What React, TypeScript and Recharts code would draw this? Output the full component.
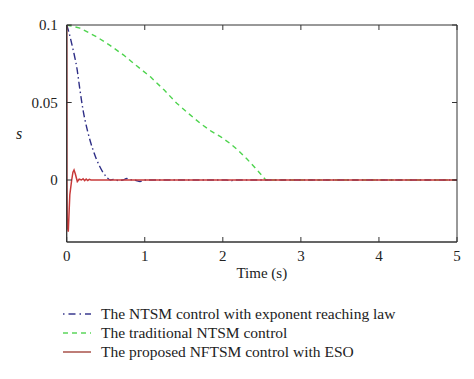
import React from "react";
import { LineChart, Line, XAxis, YAxis, Legend } from "recharts";

// NTSM control with exponent reaching law
const expT = [0, 0.03, 0.064, 0.1, 0.128, 0.17, 0.21, 0.27, 0.34, 0.42, 0.51, 0.56, 0.6, 0.66, 0.72, 0.77, 0.82, 0.88, 0.94, 1.0, 1.1, 2.05, 2.1, 2.15, 3.0, 5.0];
const expS = [0.1, 0.095, 0.088, 0.08, 0.073, 0.058, 0.045, 0.031, 0.019, 0.009, 0.002, 0.0, 0.0004, -0.0003, 0.0, 0.001, 0.0002, -0.0002, -0.001, 0.0, 0.0, 0.0, -0.0006, 0.0, 0.0, 0.0];

// Traditional NTSM control
const tradT = [0, 0.17, 0.38, 0.55, 0.73, 0.9, 1.07, 1.25, 1.41, 1.57, 1.71, 1.85, 1.97, 2.09, 2.2, 2.31, 2.42, 2.5, 2.55, 5.0];
const tradS = [0.1, 0.098, 0.0925, 0.087, 0.0806, 0.0735, 0.0667, 0.058, 0.0495, 0.0425, 0.0366, 0.0315, 0.028, 0.0237, 0.019, 0.0135, 0.0075, 0.003, 0.0, 0.0];

// Proposed NFTSM control with ESO
const propT = [0, 0.002, 0.008, 0.02, 0.04, 0.064, 0.08, 0.094, 0.11, 0.136, 0.16, 0.19, 0.21, 0.23, 0.25, 0.27, 0.29, 0.31, 5.0];
const propS = [0.1, 0.0, -0.03, -0.0333, -0.0095, 0.0, 0.005, 0.0065, 0.004, -0.001, 0.0005, 0.0, 0.0008, -0.0004, 0.0006, -0.0003, 0.0004, 0.0, 0.0];

const xTicks = [0, 1, 2, 3, 4, 5];
const yTicks = [0, 0.05, 0.1];
const yTickLabels = ["0", "0.05", "0.1"];

const legendNames = [
  "The NTSM control with exponent reaching law",
  "The traditional NTSM control",
  "The proposed NFTSM control with ESO",
];

const COLORS = { exp: "#2e2e86", trad: "#4fd44f", prop: "#c83a3a" };
const LEGEND_COLORS = { exp: "#3a3a8e", trad: "#5cd65c", prop: "#a8524a" };
const DASH = { exp: "7 3 1.5 3", trad: "5 4", prop: undefined as string | undefined };

const toData = (t: number[], s: number[]) => t.map((tv, i) => ({ t: tv, s: s[i] }));
const expData = toData(expT, expS);
const tradData = toData(tradT, tradS);
const propData = toData(propT, propS);

const FONT = "'Liberation Serif', 'DejaVu Serif', serif";
const AX = "#333";

const LegendContent = () => {
  const items = [
    { name: legendNames[0], color: LEGEND_COLORS.exp, dash: "1.5 4 7 4" },
    { name: legendNames[1], color: LEGEND_COLORS.trad, dash: DASH.trad },
    { name: legendNames[2], color: LEGEND_COLORS.prop, dash: DASH.prop },
  ];
  return (
    <svg width={380} height={60} style={{ display: "block" }}>
      {items.map((it, i) => (
        <g key={i}>
          <line x1={0} x2={28} y1={9 + i * 19} y2={9 + i * 19} stroke={it.color} strokeWidth={1.5} strokeDasharray={it.dash} />
          <text x={38} y={9 + i * 19} dy="0.35em" fontFamily={FONT} fontSize={15.5} fill="#222">
            {it.name}
          </text>
        </g>
      ))}
    </svg>
  );
};

const fmtY = (v: number) => {
  const idx = yTicks.indexOf(v);
  return idx >= 0 ? yTickLabels[idx] : String(v);
};

const NoTick = () => <g />;

export default function App() {
  return (
    <div style={{ position: "absolute", left: 0, top: 0, background: "#fff" }}>
      <LineChart width={474} height={379} margin={{ top: 25, right: 17, left: 0, bottom: 97 }}>
        <XAxis
          xAxisId="main"
          dataKey="t"
          type="number"
          domain={[0, 5]}
          ticks={xTicks}
          allowDataOverflow
          height={40}
          tickLine={false}
          tickSize={0}
          tickMargin={8}
          stroke={AX}
          tick={{ fill: "#222", fontSize: 15, fontFamily: FONT }}
          label={{ value: "Time (s)", position: "insideBottom", offset: 4, fill: "#222", fontSize: 15, fontFamily: FONT }}
        />
        <XAxis xAxisId="bt" dataKey="t" orientation="bottom" mirror type="number" domain={[0, 5]} ticks={xTicks} allowDataOverflow height={1} tickSize={5} stroke={AX} tick={NoTick} />
        <XAxis xAxisId="top" dataKey="t" orientation="top" mirror type="number" domain={[0, 5]} ticks={xTicks} allowDataOverflow height={1} tickSize={5} stroke={AX} tick={NoTick} />
        <YAxis
          yAxisId="main"
          type="number"
          domain={[-0.04, 0.1]}
          ticks={yTicks}
          allowDataOverflow
          width={66.7}
          tickLine={false}
          tickSize={0}
          tickMargin={9}
          stroke={AX}
          tickFormatter={fmtY}
          tick={{ fill: "#222", fontSize: 15, fontFamily: FONT }}
          label={{ value: "s", position: "insideLeft", offset: 16, fill: "#222", fontSize: 16, fontFamily: FONT, fontStyle: "italic" }}
        />
        <YAxis yAxisId="lt" orientation="left" mirror type="number" domain={[-0.04, 0.1]} ticks={yTicks} allowDataOverflow width={1} tickSize={5} stroke={AX} tick={NoTick} />
        <YAxis yAxisId="right" orientation="right" mirror type="number" domain={[-0.04, 0.1]} ticks={yTicks} allowDataOverflow width={1} tickSize={5} stroke={AX} tick={NoTick} />
        <Legend
          layout="vertical"
          align="center"
          verticalAlign="middle"
          wrapperStyle={{ left: 63, top: 305, width: 400 }}
          content={() => <LegendContent />}
        />
        {/* invisible series that bind the frame axes (inner tick marks on all four sides) */}
        <Line xAxisId="bt" yAxisId="lt" data={propData} dataKey="s" stroke="none" dot={false} activeDot={false} legendType="none" isAnimationActive={false} />
        <Line xAxisId="top" yAxisId="right" data={propData} dataKey="s" stroke="none" dot={false} activeDot={false} legendType="none" isAnimationActive={false} />
        <Line xAxisId="main" yAxisId="main" data={tradData} dataKey="s" type="linear" stroke={COLORS.trad} strokeWidth={1.4} strokeDasharray={DASH.trad} dot={false} isAnimationActive={false} />
        <Line xAxisId="main" yAxisId="main" data={expData} dataKey="s" type="monotone" stroke={COLORS.exp} strokeWidth={1.4} strokeDasharray={DASH.exp} dot={false} isAnimationActive={false} />
        <Line xAxisId="main" yAxisId="main" data={propData} dataKey="s" type="linear" stroke={COLORS.prop} strokeWidth={1.5} dot={false} isAnimationActive={false} />
      </LineChart>
    </div>
  );
}
